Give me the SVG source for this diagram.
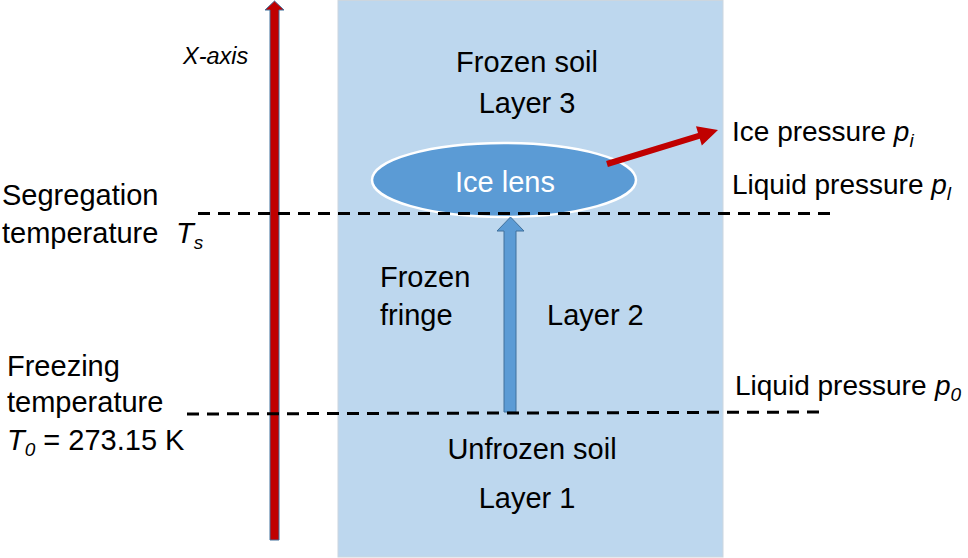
<svg xmlns="http://www.w3.org/2000/svg" width="968" height="558" viewBox="0 0 968 558">
  <style>
    text { font-family: "Liberation Sans", Arial, sans-serif; font-size: 29px; fill: #000; }
    .r { font-size: 28px; }
    .c { text-anchor: middle; }
    .it { font-style: italic; }
    .sub { font-style: italic; font-size: 19px; }
    .dash { stroke: #000; stroke-width: 3; stroke-dasharray: 12 8; fill: none; }
  </style>
  <rect width="968" height="558" fill="#fff"/>
  <g id="soil-column">
    <rect x="338" y="0.5" width="385" height="556.5" fill="#BDD7EE" stroke="#CCD6DF" stroke-width="1"/>
  </g>
  <g id="x-axis-arrow">
    <polygon points="270,540 279,540 279,10 284,10 274.5,1 265,10 270,10" fill="#C00000" stroke="#41719C" stroke-width="1"/>
    <text class="it" x="183" y="64" style="font-size:23.5px">X-axis</text>
  </g>
  <g id="ice-lens">
    <ellipse cx="504" cy="180" rx="132" ry="37" fill="#5B9BD5" stroke="#fff" stroke-width="2.5"/>
    <text class="c" x="505" y="192" style="fill:#fff">Ice lens</text>
  </g>
  <g id="connectors">
    <polygon id="flow-arrow" points="504,412 516,412 516,231 524,231 510.5,217 497,231 504,231" fill="#5B9BD5" stroke="#41719C" stroke-width="1"/>
    <polygon id="ice-pressure-arrow" points="606.1,161.1 698,133 696,126.3 718,130 701.8,145.5 699.8,138.8 607.9,166.9" fill="#C00000"/>
    <line class="dash" x1="198" y1="213.5" x2="830" y2="213.5"/>
    <line class="dash" x1="187" y1="414" x2="820" y2="412"/>
  </g>
  <g id="layer3">
    <text class="c" x="527" y="72">Frozen soil</text>
    <text class="c" x="527" y="113">Layer 3</text>
  </g>
  <g id="layer2">
    <text x="380" y="287">Frozen</text>
    <text x="380" y="325">fringe</text>
    <text x="547" y="325">Layer 2</text>
  </g>
  <g id="layer1">
    <text class="c" x="532" y="459">Unfrozen soil</text>
    <text class="c" x="527" y="508">Layer 1</text>
  </g>
  <g id="labels-right">
    <text class="r" x="732" y="141">Ice pressure <tspan class="it">p</tspan><tspan class="sub" dy="6">i</tspan></text>
    <text class="r" x="732" y="194">Liquid pressure <tspan class="it">p</tspan><tspan class="sub" dy="6">l</tspan></text>
    <text class="r" x="735" y="395">Liquid pressure <tspan class="it" x="935">p</tspan><tspan class="sub" dy="6">0</tspan></text>
  </g>
  <g id="labels-left">
    <text x="2" y="205">Segregation</text>
    <text x="2" y="243">temperature <tspan class="it" x="176">T</tspan><tspan class="sub" dy="6">s</tspan></text>
    <text x="7" y="376">Freezing</text>
    <text x="7" y="412">temperature</text>
    <text x="7" y="450"><tspan class="it">T</tspan><tspan class="sub" dy="6">0</tspan><tspan dy="-6"> = 273.15 K</tspan></text>
  </g>
</svg>
